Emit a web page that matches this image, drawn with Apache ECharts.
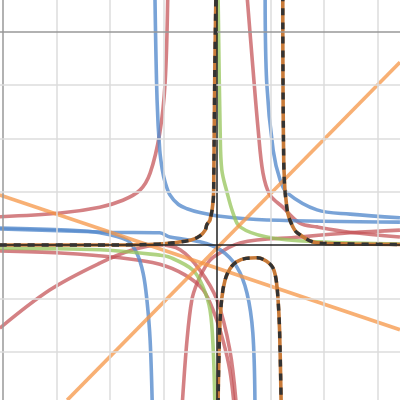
<!DOCTYPE html>
<html><head><meta charset="utf-8">
<script src="https://cdn.jsdelivr.net/npm/echarts@6/dist/echarts.min.js"></script>
<style>html,body{margin:0;padding:0;background:#fff}#c{width:400px;height:400px}</style>
</head><body><div id="c"></div>
<script>
const xTicks=[-4,-3,-2,-1,0,1,2,3];
const yTicks=[-2,-1,0,1,2,3,4];
const orangeUp=[[-2.80,-2.91],[3.42,3.43]];
const orangeDown=[[-4.06,0.94],[3.42,-1.59]];
const darkLeft=[[-4.06,0],[-2.19,0],[-1.07,0.02],[-0.50,0.09],[-0.32,0.17],[-0.22,0.28],[-0.19,0.38],[-0.13,0.47],[-0.07,0.84],[-0.06,1.22],[-0.04,3.34],[-0.02,4.7]];
const darkMid=[[0.02,-3],[0.05,-1.6],[0.09,-1.0],[0.15,-0.66],[0.24,-0.45],[0.36,-0.32],[0.55,-0.25],[0.75,-0.24],[0.92,-0.30],[1.04,-0.42],[1.10,-0.62],[1.14,-1.0],[1.17,-1.6],[1.20,-3]];
const darkRight=[[1.23,4.7],[1.25,1.46],[1.31,0.66],[1.40,0.38],[1.50,0.23],[1.87,0.04],[2.5,0.02],[3.42,0.01]];
const blueALeft=[[-4.06,0.32],[-2.80,0.28],[-2.19,0.23],[-1.68,0.09],[-1.50,-0.15],[-1.38,-0.53],[-1.31,-1.03],[-1.25,-1.78],[-1.21,-3]];
const blueARight=[[-1.16,4.7],[-1.12,2.72],[-1.07,1.78],[-1.02,1.40],[-0.97,1.18],[-0.88,0.94],[-0.72,0.76],[-0.56,0.68],[-0.32,0.61],[0.06,0.54],[0.93,0.47],[3.42,0.43]];
const blueBLeft=[[-4.06,0.30],[-2.0,0.24],[-1.07,0.23],[-0.88,0.15],[-0.32,0.06],[0.06,-0.09],[0.37,-0.41],[0.56,-0.90],[0.67,-1.65],[0.71,-3]];
const blueBRight=[[0.90,4.7],[0.93,3.04],[1.05,1.78],[1.18,1.22],[1.31,0.98],[1.87,0.66],[2.49,0.58],[3.42,0.51]];
const greenLeft=[[-4.06,-0.06],[-2.19,-0.09],[-1.07,-0.19],[-0.88,-0.23],[-0.45,-0.47],[-0.26,-0.79],[-0.13,-1.22],[-0.07,-1.97],[-0.04,-3]];
const greenRight=[[0.02,4.7],[0.06,2.10],[0.09,1.41],[0.19,0.98],[0.30,0.60],[0.43,0.34],[0.93,0.15],[1.87,0.06],[3.42,0.02]];
const red1Left=[[-4.06,0.53],[-2.93,0.60],[-2.19,0.71],[-1.76,0.84],[-1.44,1.03],[-1.25,1.35],[-1.07,2.10],[-0.97,3.04],[-0.92,4.7]];
const red1Right=[[-0.65,-3],[-0.56,-1.78],[-0.47,-1.03],[-0.37,-0.71],[-0.22,-0.41],[-0.07,-0.23],[0.43,0.04],[1.55,0.15],[2.49,0.23],[3.42,0.28]];
const red2Right=[[0.56,4.7],[0.67,3.34],[0.77,2.16],[0.86,1.35],[0.99,0.94],[1.23,0.71],[1.55,0.41],[1.87,0.34],[2.49,0.24],[3.42,0.15]];
const red2Left=[[-4.06,-0.11],[-2.93,-0.15],[-1.81,-0.24],[-1.07,-0.36],[-0.60,-0.56],[-0.26,-0.84],[-0.04,-1.31],[0.11,-1.78],[0.24,-2.35],[0.32,-3]];
const red3=[[-4.06,-1.56],[-3.12,-0.84],[-2.19,-0.34],[-1.57,-0.09],[-1.07,0],[-0.69,-0.09],[-0.32,-0.47],[0,-1.03],[0.24,-1.97],[0.36,-3]];

const C={blue:'rgba(88,140,205,0.8)',red:'rgba(196,80,84,0.72)',green:'rgba(150,196,90,0.75)',orange:'rgba(246,150,70,0.75)',darkO:'#c87a38',black:'#333'};
function L(d,color,extra){return Object.assign({type:'line',data:d,showSymbol:false,symbol:'none',smooth:0.35,lineStyle:{color:color,width:3.6},z:3},extra||{});}
const gridLines=[];
xTicks.forEach(v=>gridLines.push({xAxis:v,lineStyle:{color:v===0?'#222':(v===-4?'#999':'#dcdcdc'),width:1.5,type:'solid'}}));
yTicks.forEach(v=>gridLines.push({yAxis:v,lineStyle:{color:v===0?'#222':(v===4?'#999':'#dcdcdc'),width:1.5,type:'solid'}}));
const series=[
 {type:'line',data:[],markLine:{silent:true,symbol:'none',label:{show:false},animation:false,data:gridLines},z:1},
 L(red3,C.red),L(red2Left,C.red),L(red2Right,C.red),L(red1Left,C.red),L(red1Right,C.red),
 L(blueALeft,C.blue),L(blueARight,C.blue),L(blueBLeft,C.blue),L(blueBRight,C.blue),
 L(greenLeft,C.green),L(greenRight,C.green),
 L(orangeUp,C.orange,{smooth:false}),L(orangeDown,C.orange,{smooth:false}),
];
[darkLeft,darkMid,darkRight].forEach(d=>{series.push(L(d,C.darkO,{z:4}));series.push(L(d,C.black,{z:5,lineStyle:{color:C.black,width:3.4,type:[7,7]}}));});
const chart=echarts.init(document.getElementById('c'));
chart.setOption({animation:false,grid:{left:0,right:0,top:0,bottom:0},
 xAxis:{type:'value',min:-4.056,max:3.421,show:false,splitLine:{show:false}},
 yAxis:{type:'value',min:-2.908,max:4.597,show:false,splitLine:{show:false}},
 series:series});
</script></body></html>
